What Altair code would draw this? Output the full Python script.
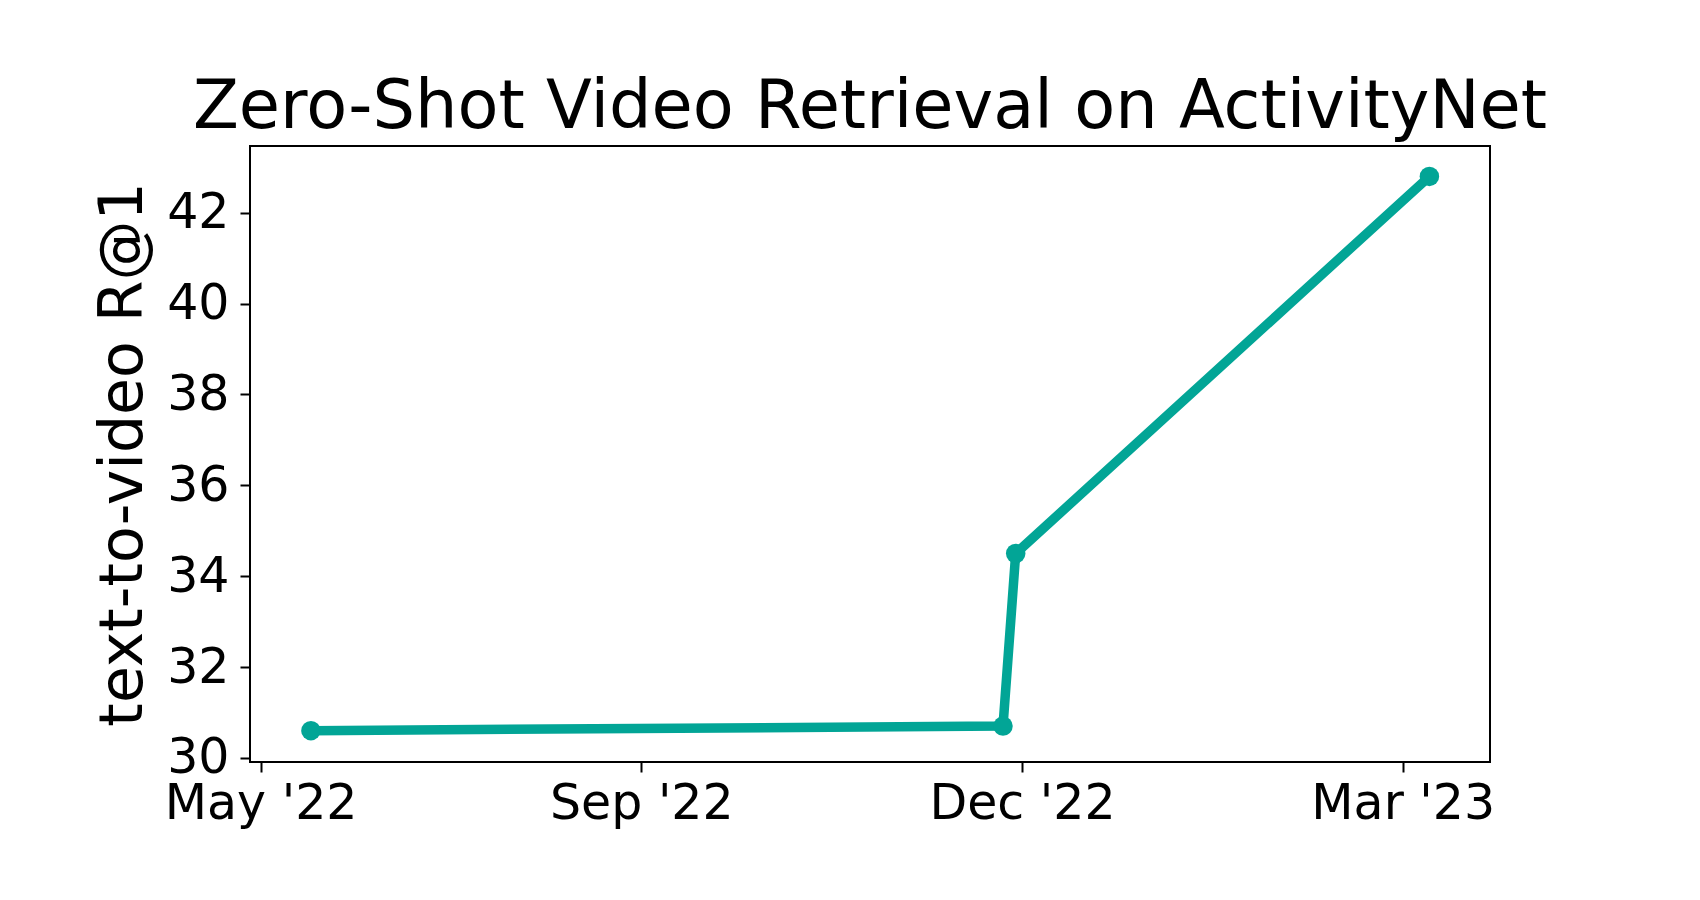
import altair as alt
import pandas as pd

# Data
dates = ["2022-06-06T05:00:00", "2022-12-05T00:00:00", "2022-12-08T08:00:00", "2023-03-27T00:00:00"]
r_at_1 = [30.6, 30.7, 34.5, 42.8]

# Axis ticks / domains
x_tick_dates = ["2022-05-24", "2022-09-01", "2022-12-10", "2023-03-20"]
x_domain_dates = ["2022-05-21T05:00:00", "2023-04-11T22:00:00"]
y_ticks = [30, 32, 34, 36, 38, 40, 42]
y_domain = [29.91, 43.47]

COLOR = "#02a596"
FONT = "DejaVu Sans"


def ms(s):
    return int(pd.Timestamp(s).value // 10**6)


df = pd.DataFrame({"t": [ms(d) for d in dates], "r1": r_at_1})

x_enc = alt.X(
    "t:T",
    scale=alt.Scale(type="utc", domain=[ms(d) for d in x_domain_dates]),
    axis=alt.Axis(
        values=[ms(d) for d in x_tick_dates],
        labelExpr="utcFormat(datum.value, \"%b '%y\")",
        title=None,
        grid=False,
        domain=False,
        labelFontSize=49,
        labelFont=FONT,
        labelColor="black",
        labelPadding=7,
        labelFlush=False,
        labelOverlap=False,
        labelLimit=0,
        tickColor="black",
        tickWidth=2,
        tickSize=10,
    ),
)
y_enc = alt.Y(
    "r1:Q",
    scale=alt.Scale(domain=y_domain, nice=False, zero=False),
    axis=alt.Axis(
        values=y_ticks,
        title="text-to-video R@1",
        titleFont=FONT,
        titleFontSize=60,
        titleFontWeight="normal",
        titleColor="black",
        titlePadding=12,
        grid=False,
        domain=False,
        labelFontSize=49,
        labelFont=FONT,
        labelColor="black",
        labelPadding=11,
        labelFlush=False,
        labelLimit=0,
        tickColor="black",
        tickWidth=2,
        tickSize=10,
    ),
)

line = alt.Chart(df).mark_line(
    color=COLOR, strokeWidth=9.5, strokeJoin="round"
).encode(x=x_enc, y=y_enc)

points = alt.Chart(df).mark_point(
    filled=True, color=COLOR, size=380, opacity=1, shape="circle"
).encode(x=x_enc, y=y_enc)

chart = (
    alt.layer(line, points)
    .properties(
        width=1240,
        height=616,
        background="white",
        autosize=alt.AutoSizeParams(type="none"),
        padding={"left": 242, "top": 138, "right": 160, "bottom": 110},
        title=alt.TitleParams(
            "Zero-Shot Video Retrieval on ActivityNet",
            font=FONT,
            fontSize=67,
            fontWeight="normal",
            color="black",
            anchor="middle",
            baseline="alphabetic",
            offset=16,
            dy=65,
        ),
    )
    .configure_view(stroke="black", strokeWidth=2)
)

chart.save("out.html", embed_options={"renderer": "svg", "actions": False})
